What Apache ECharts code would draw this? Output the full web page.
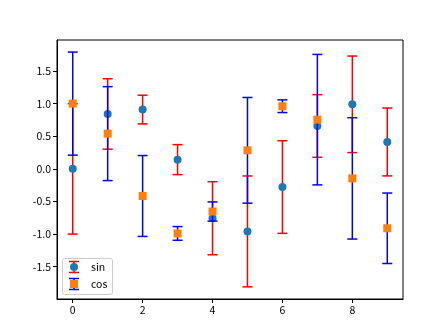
<!DOCTYPE html>
<html>
<head>
<meta charset="utf-8">
<script src="https://cdn.jsdelivr.net/npm/echarts@6/dist/echarts.min.js"></script>
<style>html,body{margin:0;padding:0;background:#fff}#c{width:448px;height:336px}</style>
</head>
<body>
<div id="c"></div>
<script>
var xs = [0, 1, 2, 3, 4, 5, 6, 7, 8, 9];
var sinVals = [0, 0.841, 0.909, 0.141, -0.757, -0.959, -0.279, 0.657, 0.989, 0.412];
var sinErr = [1.0, 0.54, 0.22, 0.23, 0.56, 0.85, 0.71, 0.48, 0.74, 0.52];
var cosVals = [1.0, 0.540, -0.416, -0.990, -0.654, 0.284, 0.960, 0.754, -0.146, -0.911];
var cosErr = [0.79, 0.72, 0.62, 0.105, 0.147, 0.81, 0.097, 1.0, 0.93, 0.54];
var xTicks = [0, 2, 4, 6, 8];
var yTicks = [-1.5, -1.0, -0.5, 0.0, 0.5, 1.0, 1.5];
var seriesNames = ['sin', 'cos'];

var FONT = '"Noto Sans CJK SC", "DejaVu Sans", sans-serif';
var chart = echarts.init(document.getElementById('c'), null, {renderer: 'canvas'});

function errData(vals, errs) {
  return xs.map(function (x, i) { return [x, vals[i] - errs[i], vals[i] + errs[i]]; });
}
function errRender(color) {
  return function (params, api) {
    var x = api.value(0);
    var lo = api.coord([x, api.value(1)]);
    var hi = api.coord([x, api.value(2)]);
    var cw = 5;
    var st = {stroke: color, lineWidth: 1.5};
    return {
      type: 'group',
      children: [
        {type: 'line', shape: {x1: lo[0], y1: lo[1], x2: hi[0], y2: hi[1]}, style: st},
        {type: 'line', shape: {x1: lo[0] - cw, y1: lo[1], x2: lo[0] + cw, y2: lo[1]}, style: st},
        {type: 'line', shape: {x1: hi[0] - cw, y1: hi[1], x2: hi[0] + cw, y2: hi[1]}, style: st}
      ]
    };
  };
}

var legendItems = [];
var lx = 62, ly = 258;
legendItems.push({type: 'rect', left: lx, top: ly, z: 100,
  shape: {width: 50, height: 36, r: 2},
  style: {fill: 'rgba(255,255,255,0.8)', stroke: '#cccccc', lineWidth: 1}});
var legColors = [['#ff0000', '#1f77b4', 'circle'], ['#0000ff', '#ff7f0e', 'rect']];
seriesNames.forEach(function (name, i) {
  var cy = ly + 9 + i * 17;
  var cx = 74;
  var ec = legColors[i][0];
  legendItems.push({type: 'line', z: 101, shape: {x1: cx, y1: cy - 5.5, x2: cx, y2: cy + 5.5}, style: {stroke: ec, lineWidth: 1.5}});
  legendItems.push({type: 'line', z: 101, shape: {x1: cx - 5, y1: cy - 5.5, x2: cx + 5, y2: cy - 5.5}, style: {stroke: ec, lineWidth: 1.5}});
  legendItems.push({type: 'line', z: 101, shape: {x1: cx - 5, y1: cy + 5.5, x2: cx + 5, y2: cy + 5.5}, style: {stroke: ec, lineWidth: 1.5}});
  if (legColors[i][2] === 'circle') {
    legendItems.push({type: 'circle', z: 102, shape: {cx: cx, cy: cy, r: 4}, style: {fill: legColors[i][1]}});
  } else {
    legendItems.push({type: 'rect', z: 102, shape: {x: cx - 4, y: cy - 4, width: 8, height: 8}, style: {fill: legColors[i][1]}});
  }
  legendItems.push({type: 'text', z: 102, x: 91, y: cy, style: {text: name, fill: '#000', font: '10.5px ' + FONT, textVerticalAlign: 'middle'}});
});

var option = {
  animation: false,
  backgroundColor: '#fff',
  grid: {left: 57, right: 45, top: 40, bottom: 37, show: true, borderColor: '#000', borderWidth: 1, backgroundColor: 'transparent'},
  xAxis: {
    type: 'value', min: -0.45, max: 9.45,
    splitLine: {show: false},
    axisLine: {show: true, onZero: false, lineStyle: {color: '#000', width: 1}},
    axisTick: {show: true, length: 4, lineStyle: {color: '#000'}, customValues: xTicks},
    axisLabel: {color: '#000', fontSize: 10.5, fontFamily: FONT, margin: 6, customValues: xTicks,
      formatter: function (v) { return String(v); }}
  },
  yAxis: {
    type: 'value', min: -1.995, max: 1.975,
    splitLine: {show: false},
    axisLine: {show: true, onZero: false, lineStyle: {color: '#000', width: 1}},
    axisTick: {show: true, length: 4, lineStyle: {color: '#000'}, customValues: yTicks},
    axisLabel: {color: '#000', fontSize: 10.5, fontFamily: FONT, margin: 6, customValues: yTicks,
      formatter: function (v) { return v.toFixed(1); }}
  },
  series: [
    {name: 'sin-err', type: 'custom', renderItem: errRender('#ff0000'), data: errData(sinVals, sinErr), z: 2, silent: true},
    {name: seriesNames[0], type: 'scatter', symbol: 'circle', symbolSize: 8, itemStyle: {color: '#1f77b4', opacity: 1},
      data: xs.map(function (x, i) { return [x, sinVals[i]]; }), z: 3},
    {name: 'cos-err', type: 'custom', renderItem: errRender('#0000ff'), data: errData(cosVals, cosErr), z: 4, silent: true},
    {name: seriesNames[1], type: 'scatter', symbol: 'rect', symbolSize: 8, itemStyle: {color: '#ff7f0e', opacity: 1},
      data: xs.map(function (x, i) { return [x, cosVals[i]]; }), z: 5}
  ],
  graphic: legendItems
};
chart.setOption(option);
</script>
</body>
</html>
